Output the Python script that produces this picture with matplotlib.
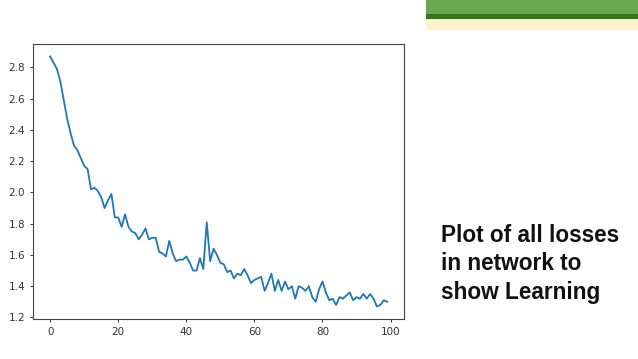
import matplotlib
matplotlib.use("Agg")
import matplotlib.pyplot as plt
from matplotlib.patches import Rectangle

epochs = list(range(100))
losses = [2.87, 2.83, 2.79, 2.71, 2.59, 2.47, 2.38, 2.30, 2.27, 2.22,
          2.17, 2.15, 2.02, 2.03, 2.01, 1.97, 1.90, 1.95, 1.99, 1.84,
          1.84, 1.78, 1.86, 1.78, 1.75, 1.74, 1.70, 1.73, 1.77, 1.70,
          1.71, 1.71, 1.62, 1.61, 1.59, 1.69, 1.61, 1.56, 1.57, 1.57,
          1.59, 1.55, 1.50, 1.50, 1.58, 1.51, 1.81, 1.56, 1.64, 1.60,
          1.55, 1.54, 1.49, 1.50, 1.45, 1.48, 1.47, 1.51, 1.47, 1.42,
          1.44, 1.45, 1.46, 1.37, 1.42, 1.48, 1.37, 1.44, 1.37, 1.43,
          1.38, 1.40, 1.32, 1.40, 1.39, 1.37, 1.40, 1.33, 1.30, 1.38,
          1.43, 1.36, 1.31, 1.32, 1.28, 1.33, 1.32, 1.34, 1.36, 1.31,
          1.33, 1.32, 1.35, 1.32, 1.35, 1.32, 1.27, 1.28, 1.31, 1.30]
caption_lines = ["Plot of all losses", "in network to", "show Learning"]

fig = plt.figure(figsize=(6.38, 3.59), dpi=100)
fig.patch.set_facecolor("white")

# decorative bars at top right
fig.add_artist(Rectangle((426/638, 1 - 14/359), 1 - 426/638, 14/359,
                         transform=fig.transFigure, color="#6aa84f", lw=0))
fig.add_artist(Rectangle((426/638, 1 - 19/359), 1 - 426/638, 5/359,
                         transform=fig.transFigure, color="#38761d", lw=0))
fig.add_artist(Rectangle((426/638, 1 - 30/359), 1 - 426/638, 11/359,
                         transform=fig.transFigure, color="#fff2cc", lw=0))

ax = fig.add_axes([33.3/638, 1 - 319/359, (404 - 33.3)/638, (319 - 44)/359])
ax.plot(epochs, losses, color="#1f77b4", lw=1.3)
ax.set_xticks([0, 20, 40, 60, 80, 100])
ax.set_yticks([1.2, 1.4, 1.6, 1.8, 2.0, 2.2, 2.4, 2.6, 2.8])
ax.tick_params(labelsize=7.5, colors="#333333", length=2.5, width=0.7)
for s in ax.spines.values():
    s.set_color("#444444")
    s.set_linewidth(0.8)

ys = [235, 263, 292]
for line, y in zip(caption_lines, ys):
    fig.text(441/638, 1 - y/359, line, fontsize=16.3, fontweight="bold",
             family="Liberation Sans", color="#111111", va="center", ha="left")

fig.savefig("out.png", dpi=100)
